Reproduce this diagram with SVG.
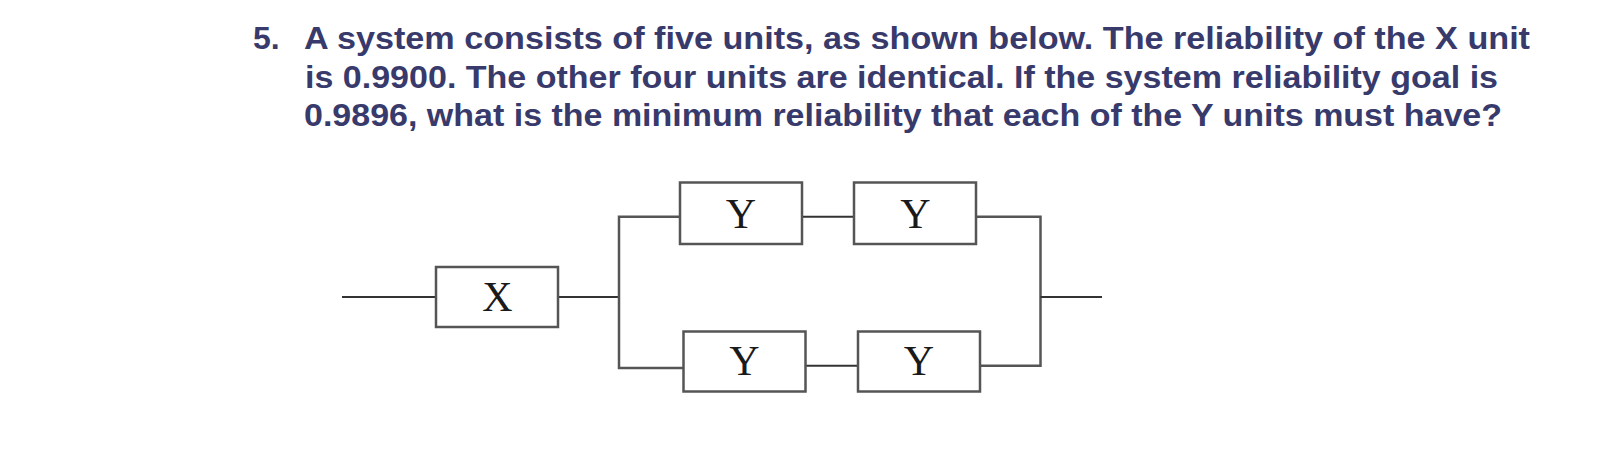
<svg xmlns="http://www.w3.org/2000/svg" width="1608" height="465" viewBox="0 0 1608 465">
<style>
.q{font-family:"Liberation Sans",Arial,sans-serif;font-weight:bold;font-size:32px;fill:#383a6b}
.box{fill:#ffffff;stroke:#555555;stroke-width:2.5}
.lbl{font-family:"Liberation Serif","Times New Roman",serif;font-size:42px;fill:#1a1a1a;text-anchor:middle}
.wire{fill:none;stroke:#333333;stroke-width:2}
.wire2{fill:none;stroke:#555555;stroke-width:2.5}
</style>
<rect width="1608" height="465" fill="#ffffff"/>
<g id="question">
<text class="q" x="253" y="49">5.</text>
<text class="q" x="304" y="49" textLength="1226" lengthAdjust="spacingAndGlyphs">A system consists of five units, as shown below. The reliability of the X unit</text>
<text class="q" x="305" y="88" textLength="1193" lengthAdjust="spacingAndGlyphs">is 0.9900. The other four units are identical. If the system reliability goal is</text>
<text class="q" x="304" y="126" textLength="1198" lengthAdjust="spacingAndGlyphs">0.9896, what is the minimum reliability that each of the Y units must have?</text>
</g>
<g id="connectors">
<path class="wire" d="M342 297 H436"/>
<path class="wire" d="M558 297 H619"/>
<path class="wire2" d="M679 216.7 H619 V368 H683"/>
<path class="wire" d="M802 216.7 H854"/>
<path class="wire" d="M806 365.7 H858"/>
<path class="wire2" d="M976 216.7 H1040.5 V365.7 H980"/>
<path class="wire" d="M1040.5 297 H1102"/>
</g>
<g id="X">
<rect class="box" x="436" y="267" width="122" height="60"/>
<text class="lbl" x="497.5" y="311">X</text>
</g>
<g id="Y1">
<rect class="box" x="680" y="182.5" width="122" height="61.5"/>
<text class="lbl" x="741" y="228">Y</text>
</g>
<g id="Y2">
<rect class="box" x="854" y="182.5" width="122" height="61.5"/>
<text class="lbl" x="915.5" y="228">Y</text>
</g>
<g id="Y3">
<rect class="box" x="683.5" y="331.5" width="122" height="60"/>
<text class="lbl" x="744.5" y="375">Y</text>
</g>
<g id="Y4">
<rect class="box" x="858" y="331.5" width="122" height="60"/>
<text class="lbl" x="919" y="375">Y</text>
</g>
</svg>
